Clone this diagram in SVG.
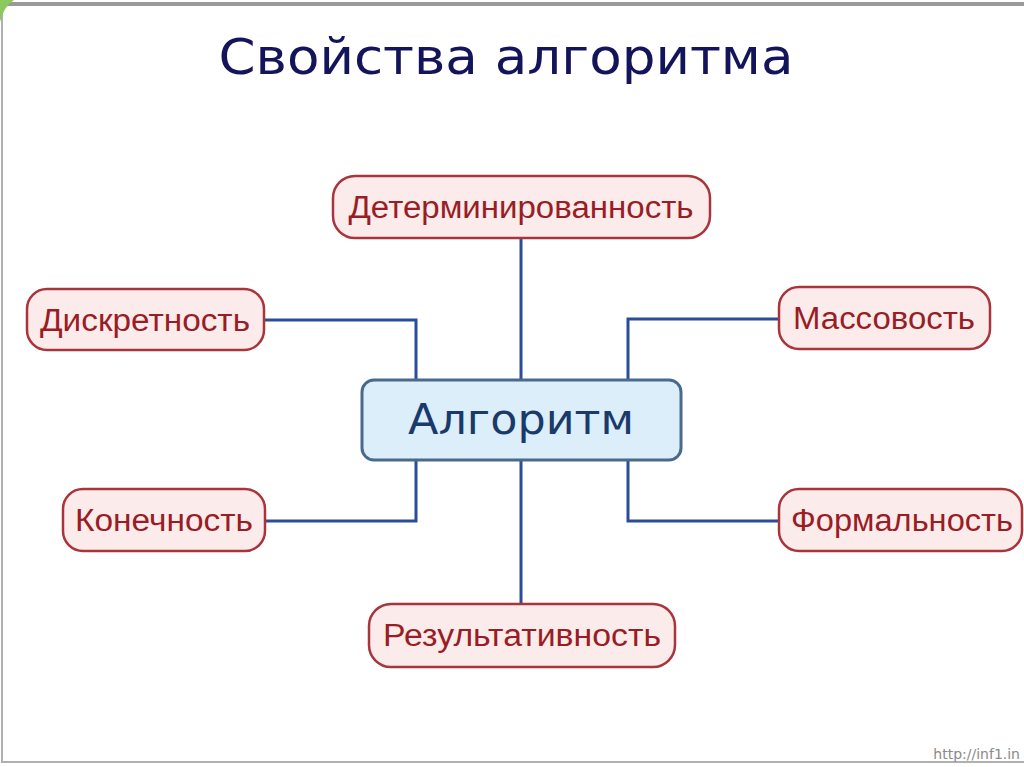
<svg xmlns="http://www.w3.org/2000/svg" width="1024" height="767" viewBox="0 0 1024 767">
<style>
.n rect{fill:#fbeceb;stroke:#a8343c;stroke-width:2.5}
.n text{font-family:"Liberation Sans",Arial,sans-serif;font-size:31px;fill:#9a1c25;text-anchor:middle}
.c path{fill:none;stroke:#2a4d9a;stroke-width:3}
</style>
<rect x="0" y="0" width="1024" height="767" fill="#ffffff"/>
<path d="M0 4 H1024" stroke="#9a9a9a" stroke-width="4"/>
<path d="M2 4 V762 H1024" fill="none" stroke="#b0b0b0" stroke-width="2"/>
<path d="M0 0 H14 Q4 6 0 22 Z" fill="#8cc860"/>
<text x="506" y="74" font-family="DejaVu Sans,sans-serif" font-size="50" fill="#14145a" text-anchor="middle" textLength="575" lengthAdjust="spacingAndGlyphs">Свойства алгоритма</text>
<text x="1020" y="759" font-family="DejaVu Sans,sans-serif" font-size="14" fill="#8a8a8a" text-anchor="end">http://inf1.in</text>
<g class="c">
<path d="M521 238 V380"/>
<path d="M264 320 H416 V380"/>
<path d="M779 319 H628 V380"/>
<path d="M265 521 H416 V460"/>
<path d="M779 521 H628 V460"/>
<path d="M521 460 V604"/>
</g>
<g id="center">
<rect x="362" y="380" width="319" height="80" rx="12" fill="#dceefa" stroke="#4a6a8c" stroke-width="3"/>
<text x="521" y="434" font-family="DejaVu Sans,sans-serif" font-size="42" fill="#1a3a6a" text-anchor="middle" textLength="226" lengthAdjust="spacingAndGlyphs">Алгоритм</text>
</g>
<g id="det" class="n"><rect x="333" y="176" width="377" height="62" rx="22"/><text x="521" y="218" textLength="345" lengthAdjust="spacingAndGlyphs">Детерминированность</text></g>
<g id="disk" class="n"><rect x="27" y="289" width="237" height="61" rx="20"/><text x="145" y="331" textLength="210" lengthAdjust="spacingAndGlyphs">Дискретность</text></g>
<g id="mass" class="n"><rect x="779" y="287" width="211" height="62" rx="20"/><text x="884" y="329" textLength="182" lengthAdjust="spacingAndGlyphs">Массовость</text></g>
<g id="kon" class="n"><rect x="63" y="489" width="202" height="62" rx="20"/><text x="164" y="531" textLength="178" lengthAdjust="spacingAndGlyphs">Конечность</text></g>
<g id="form" class="n"><rect x="779" y="489" width="243" height="62" rx="20"/><text x="902" y="531" textLength="222" lengthAdjust="spacingAndGlyphs">Формальность</text></g>
<g id="res" class="n"><rect x="369" y="604" width="306" height="63" rx="22"/><text x="522" y="646" textLength="278" lengthAdjust="spacingAndGlyphs">Результативность</text></g>
</svg>
